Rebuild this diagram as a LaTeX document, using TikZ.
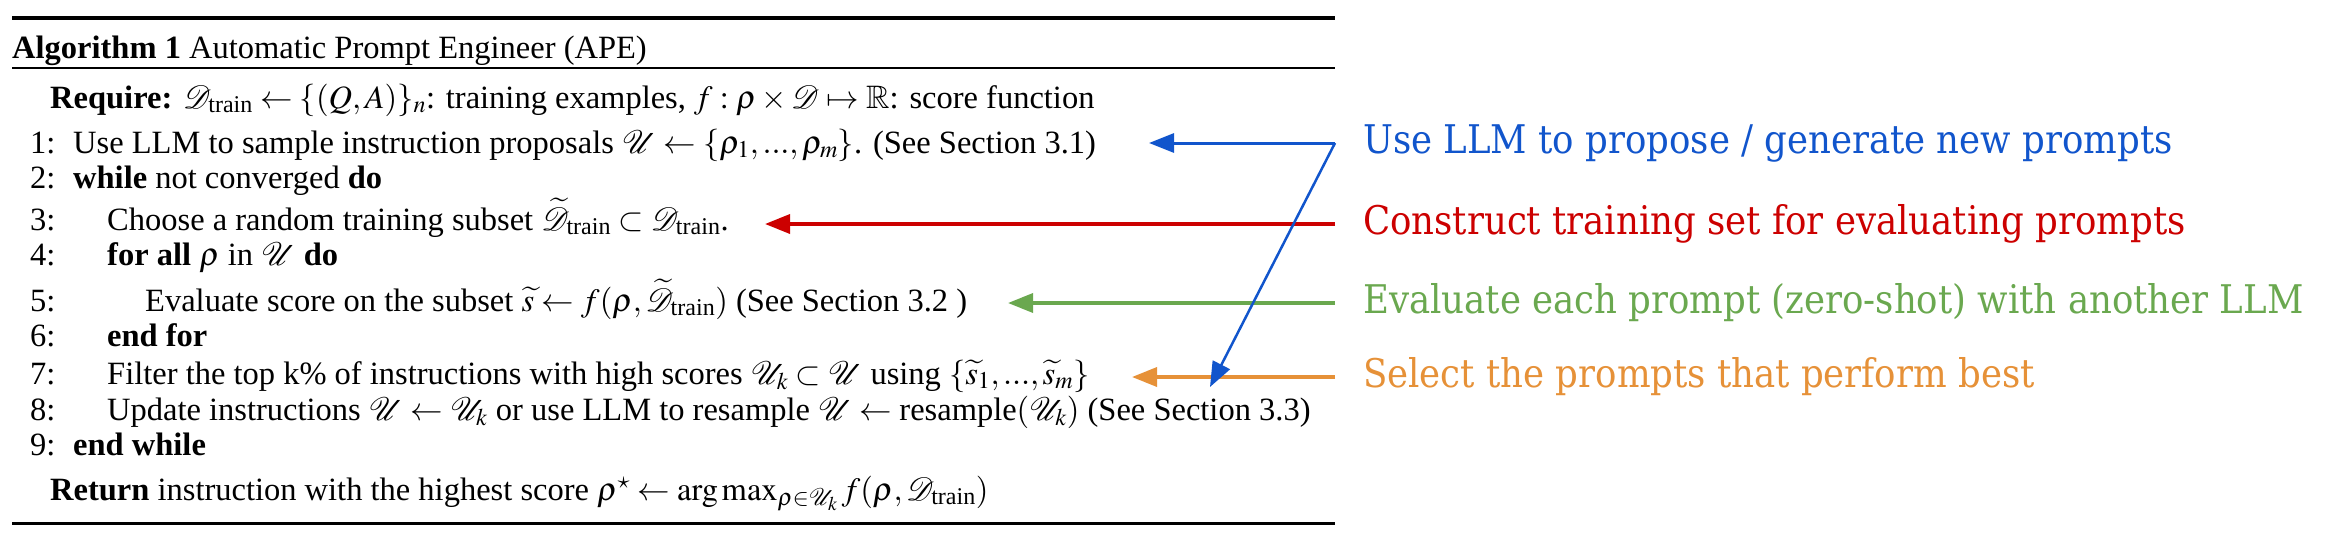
\documentclass[tikz,border=0pt]{standalone}
\usepackage{amsmath}
\usepackage{mathptmx}
\usepackage{amssymb}
\usepackage{fontspec}
\setmainfont{Liberation Serif}
\newfontfamily\annfont{DejaVu Serif Condensed}
\usetikzlibrary{arrows.meta}
\definecolor{cblue}{HTML}{1155CC}
\definecolor{cred}{HTML}{CC0000}
\definecolor{cgreen}{HTML}{6AA84F}
\definecolor{corange}{HTML}{E69138}
\newcommand{\Dtr}{\mathcal{D}_{\text{train}}}
\newcommand{\Dtt}{\widetilde{\mathcal{D}}_{\text{train}}}
\begin{document}
\begin{tikzpicture}[x=1pt,y=-1pt,
  alg/.style={anchor=base west,inner sep=0pt,font=\fontsize{32.5}{34}\selectfont},
  ann/.style={anchor=west,inner sep=0pt,font=\annfont\fontsize{39.5}{42}\selectfont},
  arr/.style={line width=3.5pt,-{Triangle[length=25pt,width=19pt]}},
  rule/.style={line width=#1}]
\useasboundingbox (0,0) rectangle (2328,538);
\draw[rule=4pt] (12,18) -- (1335,18);
\draw[rule=2pt] (12,68) -- (1335,68);
\draw[rule=3pt] (12,523) -- (1335,523);
\node[alg] (title) at (12,58) {\textbf{Algorithm 1} Automatic Prompt Engineer (APE)};
\node[alg] (req) at (50,108) {\textbf{Require:} $\Dtr \leftarrow \{(Q,A)\}_n$: training examples, $f:\rho\times\mathcal{D}\mapsto\mathbb{R}$: score function};
\foreach \n/\y in {1/153,2/188,3/230,4/265,5/311,6/346,7/384,8/420,9/455}
  \node[alg] (n\n) at (30,\y) {\n:};
\node[alg] (l1) at (73,153) {Use LLM to sample instruction proposals $\mathcal{U}\leftarrow\{\rho_1,...,\rho_m\}$. (See Section 3.1)};
\node[alg] (l2) at (73,188) {\textbf{while} not converged \textbf{do}};
\node[alg] (l3) at (107,230) {Choose a random training subset $\Dtt\subset\Dtr$.};
\node[alg] (l4) at (107,265) {\textbf{for all} $\rho$ in $\mathcal{U}$ \textbf{do}};
\node[alg] (l5) at (145,311) {Evaluate score on the subset $\widetilde{s}\leftarrow f(\rho,\Dtt)$ (See Section 3.2 )};
\node[alg] (l6) at (107,346) {\textbf{end for}};
\node[alg] (l7) at (107,384) {Filter the top k\% of instructions with high scores $\mathcal{U}_k\subset\mathcal{U}$ using $\{\widetilde{s}_1,...,\widetilde{s}_m\}$};
\node[alg] (l8) at (107,420) {Update instructions $\mathcal{U}\leftarrow\mathcal{U}_k$ or use LLM to resample $\mathcal{U}\leftarrow\text{resample}(\mathcal{U}_k)$ (See Section 3.3)};
\node[alg] (l9) at (73,455) {\textbf{end while}};
\node[alg] (ret) at (50,500) {\textbf{Return} instruction with the highest score $\rho^\star\leftarrow\arg\max_{\rho\in\mathcal{U}_k} f(\rho,\Dtr)$};

\node[ann,text=cblue] (a1) at (1363,143) {Use LLM to propose / generate new prompts};
\node[ann,text=cred] (a2) at (1363,224) {Construct training set for evaluating prompts};
\node[ann,text=cgreen] (a3) at (1363,303) {Evaluate each prompt (zero-shot) with another LLM};
\node[ann,text=corange] (a4) at (1363,377) {Select the prompts that perform best};

\coordinate (c1) at (1335,143);
\coordinate (t1) at (1149,143);
\coordinate (t1b) at (1210,387);
\coordinate (t2) at (765,224);
\coordinate (t3) at (1008,303);
\coordinate (t4) at (1132,377);
\draw[arr,cred] (1335,224) -- (t2);
\draw[arr,cgreen] (1335,303) -- (t3);
\draw[arr,corange] (1335,377) -- (t4);
\draw[arr,cblue,line width=3pt] (c1) -- (t1);
\draw[arr,cblue,line width=2.5pt] (c1) -- (t1b);
\end{tikzpicture}
\end{document}
